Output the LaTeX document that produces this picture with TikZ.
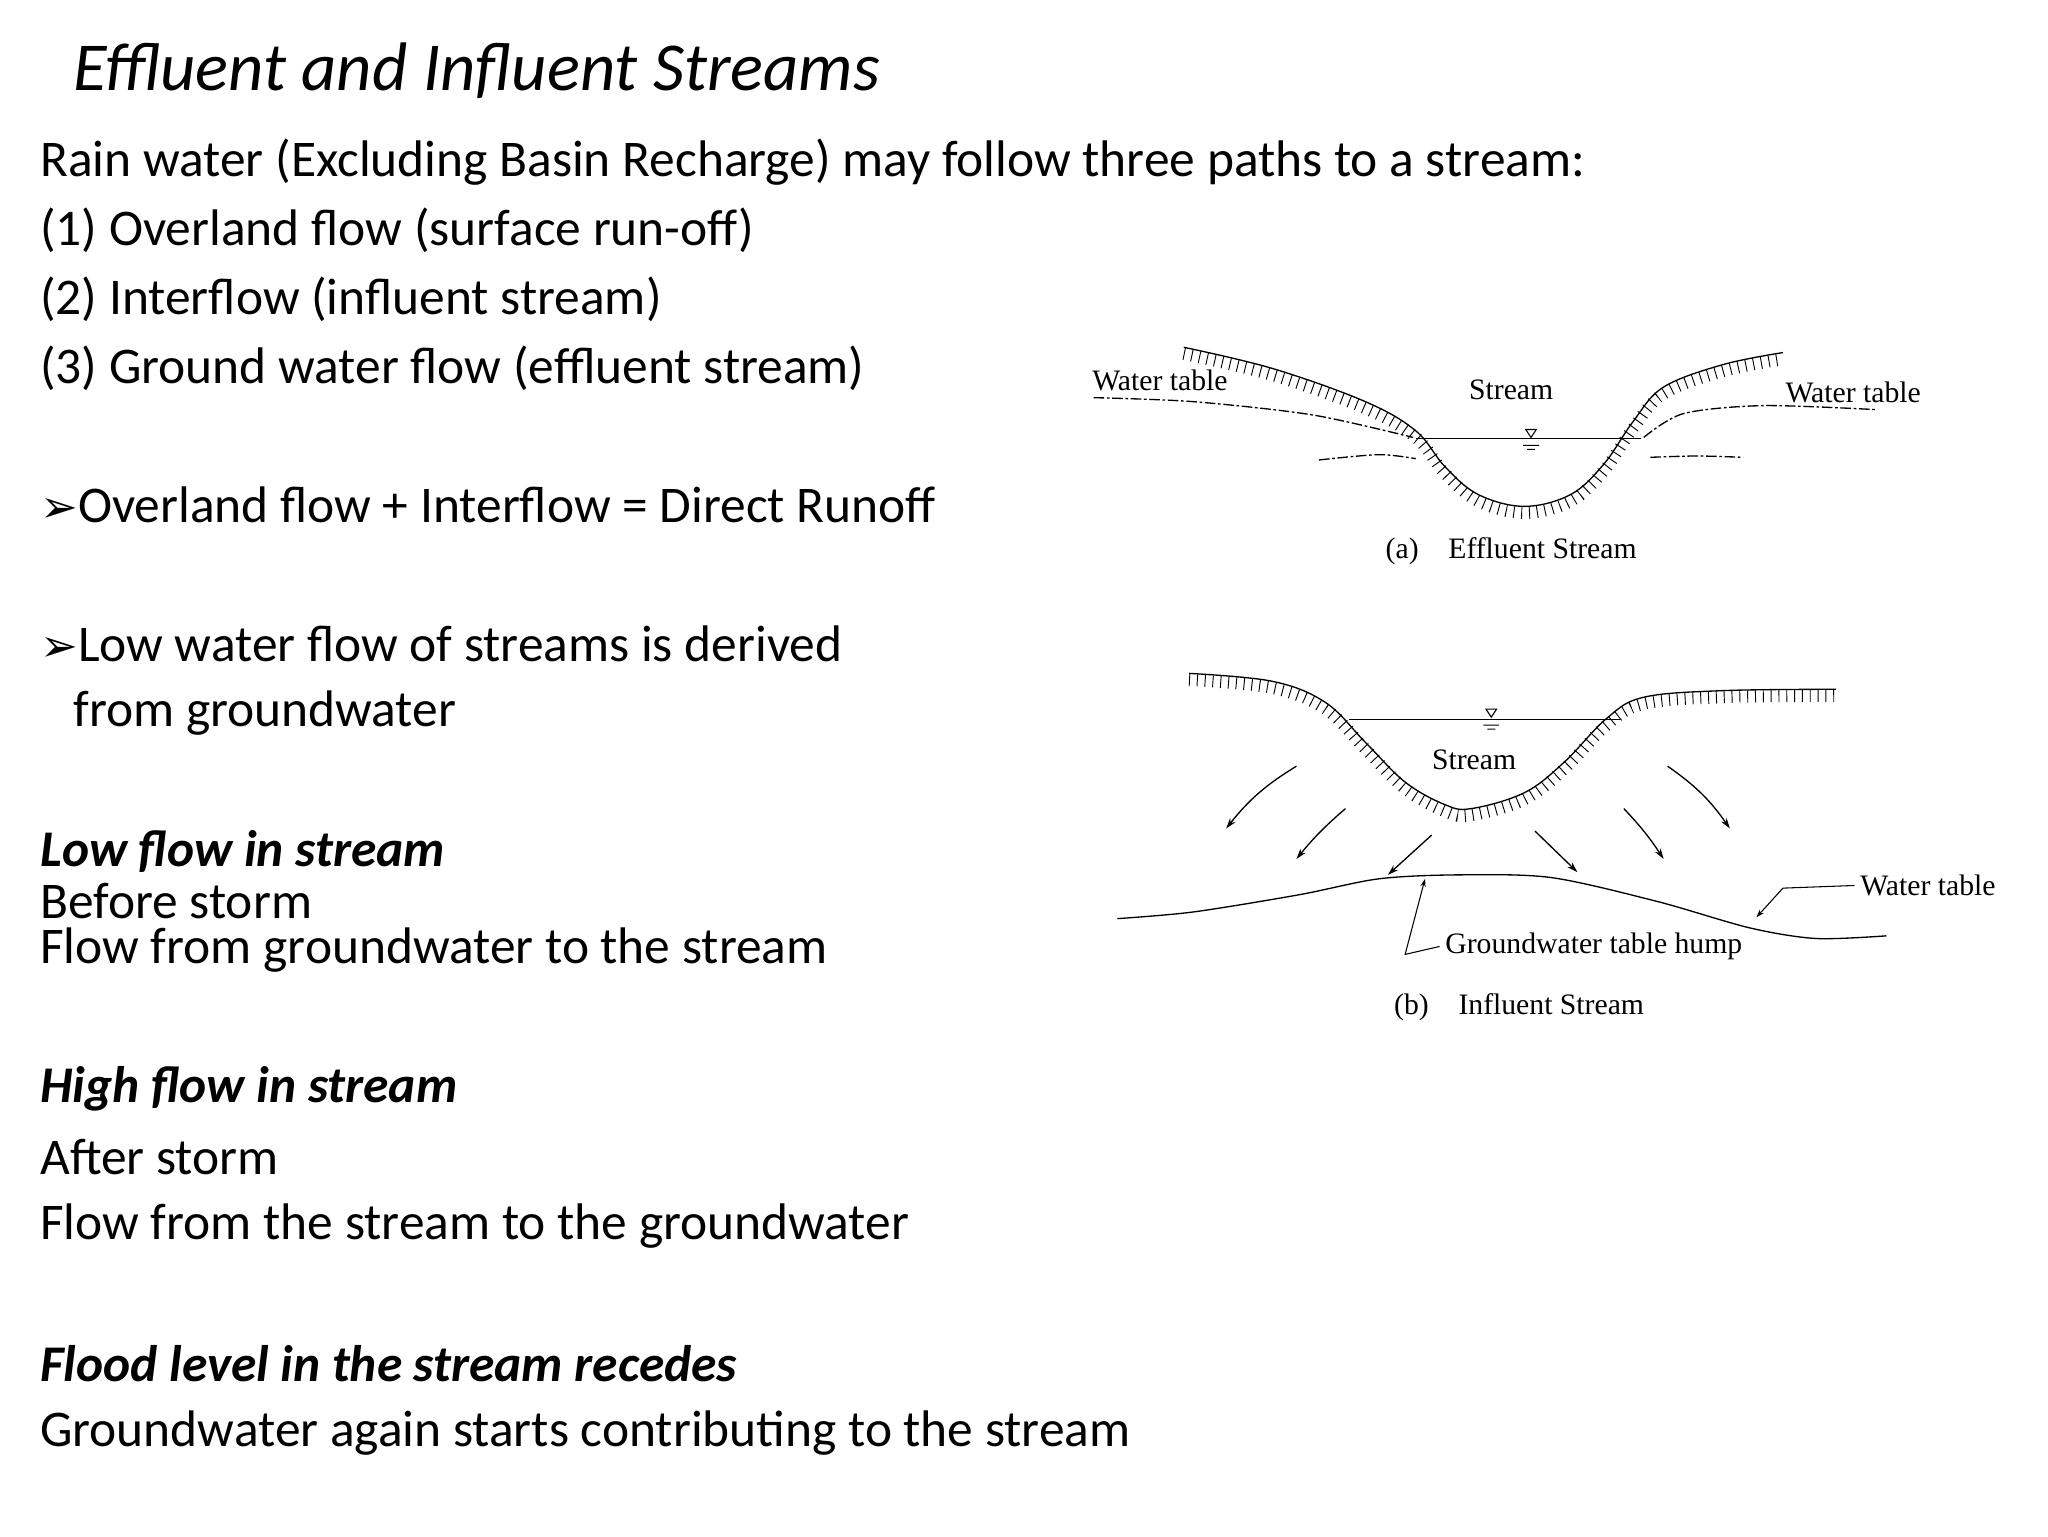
\documentclass[tikz,border=0pt]{standalone}
\usepackage{fontspec}
\setmainfont{Carlito}
\newfontfamily\dfont{Liberation Serif}
\usetikzlibrary{arrows.meta}
\begin{document}
\begin{tikzpicture}[x=0.5pt,y=-0.5pt,
 txt/.style={anchor=west,inner sep=0pt,font=\fontsize{19.4}{22}\selectfont},
 btxt/.style={anchor=west,inner sep=0pt,font=\fontsize{19.4}{22}\selectfont\bfseries\itshape},
 lbl/.style={inner sep=0pt,font=\dfont\fontsize{11.2}{13}\selectfont},
 hatch/.style={line width=4.5pt,dash pattern=on 0.35pt off 2.6pt,shift={(0,5)}},
 wt/.style={line width=0.5pt,dash pattern=on 4pt off 1pt on 1pt off 1pt},
 fl/.style={line width=0.5pt,-{Stealth[length=4pt,width=2.5pt]}}]
\useasboundingbox (0,0) rectangle (1545,1159);
\node[txt,font=\fontsize{25.9}{29}\selectfont\itshape] (title) at (55,53) {Effluent and Influent Streams};
\node[txt] (l1) at (30,122) {Rain water (Excluding Basin Recharge) may follow three paths to a stream:};
\node[txt] (l2) at (30,174) {(1) Overland flow (surface run-off)};
\node[txt] (l3) at (30,226) {(2) Interflow (influent stream)};
\node[txt] (l4) at (30,278) {(3) Ground water flow (effluent stream)};
\node[txt] (l5) at (30,381) {{\fontspec{DejaVu Sans}\fontsize{17}{19}\selectfont ➢}Overland flow + Interflow = Direct Runoff};
\node[txt] (l6) at (30,486) {{\fontspec{DejaVu Sans}\fontsize{17}{19}\selectfont ➢}Low water flow of streams is derived};
\node[txt] (l7) at (55,538) {from groundwater};
\node[btxt] (l8) at (30,642) {Low flow in stream};
\node[txt] (l9) at (30,680) {Before storm};
\node[txt] (l10) at (30,717) {Flow from groundwater to the stream};
\node[btxt] (l11) at (30,821) {High flow in stream};
\node[txt] (l12) at (30,873) {After storm};
\node[txt] (l13) at (30,925) {Flow from the stream to the groundwater};
\node[btxt] (l14) at (30,1029) {Flood level in the stream recedes};
\node[txt] (l15) at (30,1081) {Groundwater again starts contributing to the stream};
% diagram (a)
\def\ga{(893,262) (960,278) (1030,303) (1068,325) (1090,352) (1115,373) (1150,382) (1185,373) (1210,350) (1232,318) (1255,292) (1300,275) (1345,266)}
\draw[hatch] plot[smooth,tension=0.6] coordinates {\ga};
\draw[line width=0.5pt] plot[smooth,tension=0.6] coordinates {\ga};
\draw[line width=0.5pt] (1068,331) -- (1238,331);
\draw[line width=0.4pt] (1151,324) -- (1159,324) -- (1155,330) -- cycle (1149,336)--(1161,336) (1152,339)--(1158,339);
\draw[wt] plot[smooth] coordinates {(825,300) (900,303) (990,313) (1066,330)};
\draw[wt] plot[smooth] coordinates {(995,347) (1040,343) (1068,346)};
\draw[wt] plot[smooth] coordinates {(1240,330) (1270,312) (1330,306) (1415,309)};
\draw[wt] plot[smooth] coordinates {(1245,345) (1280,344) (1315,345)};
\node[lbl] (wtla) at (875,287) {Water table};
\node[lbl] (sa) at (1140,294) {Stream};
\node[lbl] (wtra) at (1398,296) {Water table};
\node[lbl] (capa) at (1140,416) {(a)\quad Effluent Stream};
% diagram (b)
\def\gb{(897,508) (960,514) (1000,530) (1030,560) (1060,590) (1090,607) (1110,610) (1150,598) (1180,575) (1212,542) (1240,526) (1300,521) (1385,520)}
\draw[hatch] plot[smooth,tension=0.6] coordinates {\gb};
\draw[line width=0.5pt] plot[smooth,tension=0.6] coordinates {\gb};
\draw[line width=0.5pt] (1018,543) -- (1222,543);
\draw[line width=0.4pt] (1121,535) -- (1129,535) -- (1125,541) -- cycle (1119,547)--(1131,547) (1122,550)--(1128,550);
\node[lbl] (sb) at (1112,573) {Stream};
\coordinate (a1s) at (978,578); \coordinate (a1e) at (925,625);
\coordinate (a2s) at (1015,610); \coordinate (a2e) at (978,648);
\coordinate (a3s) at (1080,630); \coordinate (a3e) at (1047,660);
\coordinate (a4s) at (1158,627); \coordinate (a4e) at (1190,658);
\coordinate (a5s) at (1225,610); \coordinate (a5e) at (1255,648);
\coordinate (a6s) at (1258,578); \coordinate (a6e) at (1305,625);
\draw[fl] (a1s) to[bend right=10] (a1e);
\draw[fl] (a2s) to[bend right=5] (a2e);
\draw[fl] (a3s) to (a3e);
\draw[fl] (a4s) to (a4e);
\draw[fl] (a5s) to[bend left=5] (a5e);
\draw[fl] (a6s) to[bend left=10] (a6e);
\draw[line width=0.5pt] plot[smooth] coordinates {(843,693) (900,688) (980,675) (1040,663) (1100,660) (1170,662) (1250,680) (1320,700) (1370,708) (1423,706)};
\node[lbl,anchor=west] (hump) at (1090,714) {Groundwater table hump};
\coordinate (hb) at (1060,720); \coordinate (ht) at (1075,663);
\draw[line width=0.4pt,-{Stealth[length=3pt,width=2pt]}] ([xshift=-2pt]hump.west) -- (hb) -- (ht);
\node[lbl,anchor=west] (wtb) at (1403,668) {Water table};
\coordinate (wk) at (1345,670); \coordinate (wte) at (1325,692);
\draw[line width=0.4pt,-{Stealth[length=3pt,width=2pt]}] ([xshift=-2pt]wtb.west) -- (wk) -- (wte);
\node[lbl] (capb) at (1146,760) {(b)\quad Influent Stream};
\end{tikzpicture}
\end{document}
